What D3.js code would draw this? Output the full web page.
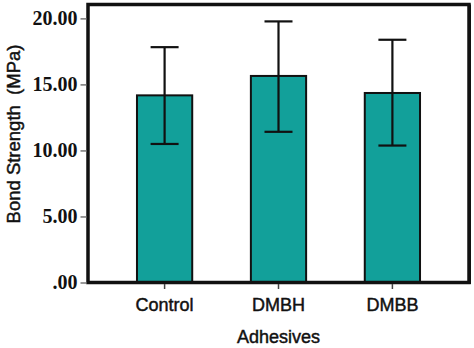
<!DOCTYPE html>
<html>
<head>
<meta charset="utf-8">
<script src="https://cdn.jsdelivr.net/npm/d3@7"></script>
<style>
  html, body { margin: 0; padding: 0; background: #fff; }
  svg { display: block; }
</style>
</head>
<body>
<svg id="chart" width="474" height="348"></svg>
<script>
const categories = ["Control", "DMBH", "DMBB"];
const means = [14.17, 15.64, 14.35];
const errLow = [10.49, 11.41, 10.37];
const errHigh = [17.82, 19.77, 18.38];
const yTicks = [0, 5, 10, 15, 20];
const yTickLabels = [".00", "5.00", "10.00", "15.00", "20.00"];
const xTitle = "Adhesives";
const yTitle = "Bond Strength  (MPa)";

const svg = d3.select("#chart");
const mLeft = 88, mRight = 469, mTop = 4.5, mBottom = 282.5;

const x = d3.scaleBand().domain(categories).range([mLeft, mRight])
  .paddingInner(0.515).paddingOuter(0.43);
const y = d3.scaleLinear().domain([0, 21.05]).range([mBottom, mTop]);

const data = categories.map((c, i) => ({c, m: means[i], lo: errLow[i], hi: errHigh[i]}));

// bars
svg.append("g").selectAll("rect").data(data).join("rect")
  .attr("x", d => x(d.c))
  .attr("y", d => y(d.m))
  .attr("width", x.bandwidth())
  .attr("height", d => y(0) - y(d.m))
  .attr("fill", "#12a09a")
  .attr("stroke", "#111")
  .attr("stroke-width", 2);

// error bars
const eb = svg.append("g").attr("stroke", "#111").attr("stroke-width", 2.2);
data.forEach(d => {
  const cx = x(d.c) + x.bandwidth() / 2;
  eb.append("line").attr("x1", cx).attr("x2", cx).attr("y1", y(d.lo)).attr("y2", y(d.hi));
  eb.append("line").attr("x1", cx - 14).attr("x2", cx + 14).attr("y1", y(d.lo)).attr("y2", y(d.lo));
  eb.append("line").attr("x1", cx - 14).attr("x2", cx + 14).attr("y1", y(d.hi)).attr("y2", y(d.hi));
});

// frame
svg.append("rect")
  .attr("x", mLeft).attr("y", mTop)
  .attr("width", mRight - mLeft).attr("height", mBottom - mTop)
  .attr("fill", "none").attr("stroke", "#111").attr("stroke-width", 3.5);
svg.append("line")
  .attr("x1", mRight + 1).attr("x2", mRight + 1)
  .attr("y1", mTop).attr("y2", mBottom + 1.5)
  .attr("stroke", "#111").attr("stroke-width", 2);

// y axis
const yAxis = d3.axisLeft(y).tickValues(yTicks)
  .tickFormat((d, i) => yTickLabels[i]).tickSize(6).tickPadding(3);
const gy = svg.append("g").attr("transform", `translate(${mLeft - 1.5},0)`).call(yAxis);
gy.select(".domain").remove();
gy.selectAll(".tick line").attr("stroke", "#777").attr("stroke-width", 1.5);
gy.selectAll(".tick text")
  .attr("font-family", "Liberation Serif, Times New Roman, serif")
  .attr("font-weight", "bold").attr("font-size", 20).attr("fill", "#111");

// x axis
const xAxis = d3.axisBottom(x).tickSize(5).tickPadding(9);
const gx = svg.append("g").attr("transform", `translate(0,${mBottom + 1.5})`).call(xAxis);
gx.select(".domain").remove();
gx.selectAll(".tick line").attr("stroke", "#444").attr("stroke-width", 1.5);
gx.selectAll(".tick text")
  .attr("font-family", "Liberation Sans, Arial, sans-serif")
  .attr("font-size", 18).attr("fill", "#111")
  .attr("stroke", "#111").attr("stroke-width", 0.45);

// titles
svg.append("text")
  .attr("x", (mLeft + mRight) / 2).attr("y", 343)
  .attr("text-anchor", "middle")
  .attr("font-family", "Liberation Sans, Arial, sans-serif")
  .attr("font-size", 18).attr("fill", "#111")
  .attr("stroke", "#111").attr("stroke-width", 0.45)
  .text(xTitle);

svg.append("text")
  .attr("transform", `translate(20,134) rotate(-90)`)
  .attr("text-anchor", "middle")
  .attr("font-family", "Liberation Sans, Arial, sans-serif")
  .attr("font-size", 18.5).attr("fill", "#111")
  .attr("stroke", "#111").attr("stroke-width", 0.45)
  .style("white-space", "pre")
  .text(yTitle);
</script>
</body>
</html>
